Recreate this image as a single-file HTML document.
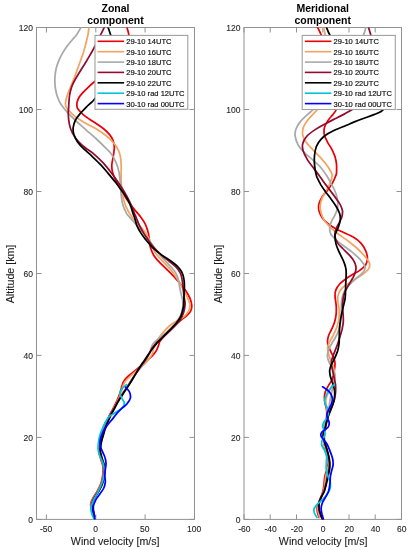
<!DOCTYPE html>
<html><head><meta charset="utf-8"><title>Wind profiles</title>
<style>
html,body{margin:0;padding:0;background:#fff}
svg{display:block}
text{font-family:"Liberation Sans",Arial,sans-serif;fill:#262626}
.tk{font-size:8.5px;fill:#262626;stroke:#262626;stroke-width:0.1px}
.lg{font-size:8.05px;fill:#111;stroke:#111;stroke-width:0.18px}
.lb{font-size:10.65px;fill:#1c1c1c;stroke:#1c1c1c;stroke-width:0.1px}
.tt{font-size:10.5px;font-weight:bold;fill:#000}
</style></head><body>
<svg width="411" height="550" viewBox="0 0 411 550"><rect width="411" height="550" fill="#fff"/><rect x="36.5" y="27.5" width="158.0" height="491.9" fill="#fff" stroke="#929292" stroke-width="1"/><path d="M46.4 519.4v-5M46.4 27.5v5" stroke="#929292" stroke-width="1"/><text x="46.1" y="531.8" class="tk" text-anchor="middle">-50</text><path d="M95.8 519.4v-5M95.8 27.5v5" stroke="#929292" stroke-width="1"/><text x="95.5" y="531.8" class="tk" text-anchor="middle">0</text><path d="M145.1 519.4v-5M145.1 27.5v5" stroke="#929292" stroke-width="1"/><text x="144.8" y="531.8" class="tk" text-anchor="middle">50</text><path d="M194.5 519.4v-5M194.5 27.5v5" stroke="#929292" stroke-width="1"/><text x="194.2" y="531.8" class="tk" text-anchor="middle">100</text><path d="M36.5 519.4h5M194.5 519.4h-5" stroke="#929292" stroke-width="1"/><text x="33.0" y="522.7" class="tk" text-anchor="end">0</text><path d="M36.5 437.4h5M194.5 437.4h-5" stroke="#929292" stroke-width="1"/><text x="33.0" y="440.7" class="tk" text-anchor="end">20</text><path d="M36.5 355.4h5M194.5 355.4h-5" stroke="#929292" stroke-width="1"/><text x="33.0" y="358.7" class="tk" text-anchor="end">40</text><path d="M36.5 273.5h5M194.5 273.5h-5" stroke="#929292" stroke-width="1"/><text x="33.0" y="276.8" class="tk" text-anchor="end">60</text><path d="M36.5 191.5h5M194.5 191.5h-5" stroke="#929292" stroke-width="1"/><text x="33.0" y="194.8" class="tk" text-anchor="end">80</text><path d="M36.5 109.5h5M194.5 109.5h-5" stroke="#929292" stroke-width="1"/><text x="33.0" y="112.8" class="tk" text-anchor="end">100</text><path d="M36.5 27.5h5M194.5 27.5h-5" stroke="#929292" stroke-width="1"/><text x="33.0" y="30.8" class="tk" text-anchor="end">120</text><clipPath id="cl"><rect x="36.5" y="27.5" width="158.0" height="491.9"/></clipPath><g clip-path="url(#cl)" fill="none" stroke-width="1.75" stroke-linejoin="round" stroke-linecap="round"><path d="M126.9 27.3C127.2 28.5 128.4 31.6 128.8 34.6C129.1 37.5 129.8 41.1 128.9 45.0C128.0 48.9 126.2 53.8 123.3 58.0C120.3 62.2 114.8 66.8 111.1 70.0C107.4 73.2 103.8 75.1 101.1 77.0C98.4 78.9 96.8 79.9 94.8 81.5C92.8 83.0 91.1 84.5 89.2 86.3C87.2 88.2 84.7 90.6 83.1 92.4C81.4 94.3 80.1 95.7 79.1 97.3C78.2 98.9 77.5 100.6 77.1 102.2C76.8 103.8 76.9 105.8 77.1 107.1C77.3 108.3 77.5 108.5 78.6 109.8C79.6 111.1 81.6 113.3 83.5 114.9C85.3 116.5 87.4 117.8 89.6 119.3C91.7 120.8 94.2 122.1 96.5 123.7C98.8 125.3 101.4 127.0 103.6 128.8C105.8 130.6 108.0 132.8 109.6 134.6C111.1 136.5 112.1 137.9 112.9 140.0C113.7 142.1 114.3 144.6 114.3 147.3C114.4 150.0 113.7 153.1 113.3 156.1C112.9 159.0 112.0 162.1 111.8 164.8C111.7 167.5 111.8 169.4 112.5 172.1C113.2 174.8 114.4 177.7 115.9 180.9C117.5 184.0 119.8 187.9 121.7 191.1C123.6 194.3 125.3 196.9 127.3 199.9C129.3 202.8 131.4 205.7 133.7 208.6C135.9 211.5 139.0 214.6 140.9 217.3C142.9 220.0 144.2 221.9 145.5 224.6C146.7 227.3 147.7 230.4 148.4 233.4C149.0 236.3 149.2 239.7 149.6 242.1C150.0 244.5 149.9 245.8 150.6 248.0C151.3 250.1 152.5 253.2 153.7 255.3C154.9 257.3 155.8 258.4 157.7 260.4C159.6 262.5 162.6 265.4 165.0 267.7C167.3 270.0 169.7 272.1 171.8 274.3C174.0 276.5 176.0 278.8 177.8 280.9C179.6 282.9 181.0 284.9 182.5 286.7C183.9 288.5 185.1 289.9 186.4 291.8C187.6 293.8 189.1 296.1 190.0 298.4C190.9 300.7 191.8 303.6 191.8 305.8C191.9 308.1 191.3 310.0 190.3 311.7C189.4 313.4 187.6 314.8 186.2 316.1C184.8 317.3 183.8 317.6 182.2 319.0C180.5 320.3 178.7 322.0 176.5 324.1C174.3 326.2 171.4 329.2 169.2 331.4C167.0 333.6 164.9 335.5 163.4 337.2C161.8 338.9 160.6 340.3 159.8 341.6C159.0 342.9 159.2 343.8 158.6 345.3C158.1 346.7 157.5 348.7 156.5 350.4C155.5 352.1 154.4 353.6 152.7 355.5C150.9 357.4 148.6 359.4 146.0 361.7C143.4 363.9 140.0 366.7 137.2 369.0C134.3 371.3 131.1 373.6 129.0 375.5C126.8 377.5 125.2 379.1 124.1 380.7C123.0 382.2 122.8 383.1 122.2 385.0C121.5 387.0 121.1 389.7 120.2 392.3C119.3 395.0 118.1 398.2 116.8 401.1C115.4 404.0 113.7 407.2 112.4 409.9C111.0 412.5 109.8 414.2 108.5 417.2C107.1 420.1 105.3 424.4 104.2 427.3C103.1 430.2 102.6 432.2 101.9 434.6C101.1 437.0 100.4 439.5 99.9 441.9C99.4 444.3 98.9 447.3 98.8 449.2C98.7 451.1 98.7 451.6 99.2 453.6C99.6 455.5 100.7 458.8 101.3 460.9C102.0 463.0 102.6 463.7 102.9 466.1C103.1 468.4 103.2 471.9 102.8 474.8C102.5 477.7 101.8 480.9 100.9 483.6C100.0 486.3 98.8 488.4 97.4 490.9C96.1 493.3 94.0 496.0 92.9 498.2C91.7 500.4 90.9 502.1 90.7 504.0C90.5 506.0 91.2 507.8 91.6 509.9C92.0 511.9 92.8 515.3 93.0 516.4" stroke="#ea0008"/><path d="M89.0 27.3C88.8 28.5 88.4 32.5 88.0 34.6C87.6 36.7 87.2 38.1 86.7 40.0C86.3 41.9 85.8 44.1 85.2 46.1C84.7 48.1 84.2 49.8 83.5 52.2C82.7 54.6 81.5 57.9 80.5 60.7C79.5 63.6 78.5 66.4 77.4 69.3C76.4 72.1 75.3 75.2 74.3 77.8C73.3 80.4 72.3 82.7 71.3 85.1C70.4 87.6 69.2 90.2 68.4 92.4C67.5 94.7 66.8 96.7 66.3 98.5C65.8 100.4 65.5 102.0 65.5 103.4C65.5 104.8 65.8 106.0 66.3 107.1C66.8 108.1 66.8 108.3 68.3 109.8C69.7 111.4 72.5 114.4 74.9 116.4C77.3 118.3 79.7 119.8 82.6 121.5C85.4 123.2 89.0 124.9 92.0 126.6C95.1 128.3 97.8 129.8 100.7 131.7C103.6 133.7 106.6 135.7 109.3 138.3C112.0 140.9 115.1 144.3 116.9 147.3C118.7 150.3 119.6 152.9 120.3 156.1C121.0 159.2 121.1 162.9 121.2 166.3C121.3 169.7 121.0 172.8 121.1 176.5C121.1 180.1 121.3 184.5 121.7 188.2C122.0 191.8 122.6 195.2 123.3 198.4C124.1 201.6 124.9 204.2 126.2 207.2C127.5 210.1 129.1 213.0 131.2 215.9C133.3 218.8 136.6 221.9 138.9 224.6C141.2 227.3 143.1 229.5 144.9 231.9C146.6 234.3 147.9 236.5 149.2 239.2C150.6 241.9 151.9 245.6 153.0 248.0C154.0 250.3 154.0 251.1 155.5 253.1C157.0 255.2 159.7 258.0 161.9 260.4C164.1 262.9 166.8 265.3 168.9 267.7C171.0 270.2 173.0 272.6 174.7 275.0C176.5 277.5 177.9 279.9 179.3 282.3C180.7 284.8 182.0 287.4 183.2 289.6C184.4 291.8 185.4 293.3 186.4 295.5C187.5 297.7 188.9 301.0 189.5 302.8C190.1 304.5 190.2 304.4 190.0 305.8C189.8 307.3 189.2 310.0 188.3 311.7C187.4 313.4 186.2 314.7 184.6 316.1C183.1 317.4 180.9 318.6 179.2 319.7C177.4 320.8 175.9 321.4 174.0 322.6C172.2 323.8 170.1 325.3 168.2 327.0C166.3 328.7 164.5 330.8 162.7 332.8C161.0 334.9 159.1 337.3 157.7 339.4C156.3 341.5 155.2 343.3 154.5 345.3C153.7 347.2 153.5 349.4 152.9 351.1C152.4 352.8 152.4 353.6 151.3 355.5C150.1 357.4 148.3 360.0 146.1 362.4C143.9 364.8 140.7 367.4 138.0 369.7C135.3 372.0 132.2 374.3 130.1 376.3C127.9 378.2 126.4 379.8 125.2 381.4C124.1 383.0 123.8 383.9 123.1 385.8C122.4 387.6 122.0 390.0 121.0 392.6C120.1 395.2 118.8 398.5 117.5 401.4C116.2 404.3 114.5 407.5 113.1 410.1C111.7 412.8 110.5 414.6 109.2 417.4C107.8 420.3 106.0 424.4 104.9 427.3C103.8 430.2 103.2 432.2 102.5 434.6C101.7 437.0 101.0 439.5 100.5 441.9C100.0 444.3 99.5 447.3 99.4 449.2C99.3 451.1 99.3 451.6 99.8 453.6C100.2 455.5 101.3 458.8 101.9 460.9C102.6 463.0 103.2 463.7 103.5 466.1C103.7 468.4 103.8 471.9 103.4 474.8C103.1 477.7 102.4 480.9 101.5 483.6C100.6 486.3 99.4 488.4 98.0 490.9C96.7 493.3 94.6 496.0 93.5 498.2C92.3 500.4 91.5 502.1 91.3 504.0C91.1 506.0 91.8 507.8 92.2 509.9C92.6 511.9 93.4 515.3 93.6 516.4" stroke="#f4a460"/><path d="M80.9 27.5C80.1 28.8 77.9 33.0 76.4 35.0C74.9 37.1 73.6 38.2 72.1 40.0C70.5 41.8 68.8 43.9 67.2 46.1C65.6 48.3 63.8 51.0 62.4 53.4C61.0 55.9 59.8 58.3 58.8 60.7C57.8 63.2 57.0 65.6 56.3 68.0C55.7 70.5 55.3 72.9 55.1 75.4C54.8 77.8 54.8 80.2 54.9 82.7C55.0 85.1 55.2 87.6 55.7 90.0C56.1 92.4 56.7 94.9 57.6 97.3C58.5 99.8 59.4 102.1 61.1 104.6C62.8 107.2 65.1 109.9 67.7 112.7C70.3 115.5 73.4 118.6 76.6 121.5C79.7 124.4 83.2 127.3 86.5 130.3C89.8 133.2 93.2 136.1 96.4 139.0C99.6 141.9 103.2 145.4 105.6 147.8C107.9 150.1 108.9 150.8 110.6 153.1C112.3 155.5 114.4 158.7 115.8 161.9C117.2 165.1 118.2 168.5 119.0 172.1C119.7 175.8 120.1 180.1 120.5 183.8C120.8 187.4 120.7 190.6 121.1 194.0C121.4 197.4 121.9 201.1 122.7 204.2C123.6 207.4 125.3 211.1 126.3 213.0C127.2 214.9 127.2 214.4 128.4 215.8C129.6 217.3 131.6 219.5 133.5 221.7C135.4 223.9 137.7 226.3 139.9 229.0C142.2 231.7 144.7 234.6 147.1 237.7C149.6 240.9 152.4 245.0 154.6 248.0C156.8 250.9 158.2 252.9 160.1 255.3C162.1 257.6 164.4 259.8 166.3 261.9C168.2 264.0 170.2 265.8 171.8 267.7C173.5 269.7 175.0 271.6 176.1 273.6C177.1 275.5 177.7 277.2 178.3 279.4C178.9 281.6 179.1 284.3 179.6 286.7C180.0 289.1 180.6 291.8 181.1 294.0C181.6 296.2 182.3 297.8 182.6 300.0C182.8 302.2 183.1 304.6 182.7 307.3C182.3 310.0 181.4 313.4 180.2 316.1C178.9 318.7 177.3 320.9 175.3 323.4C173.3 325.8 170.6 328.3 168.2 330.7C165.7 333.0 162.5 335.5 160.5 337.2C158.4 338.9 157.3 339.8 156.0 340.9C154.8 342.0 153.9 342.6 153.1 343.8C152.2 345.0 151.7 346.5 151.0 348.2C150.4 349.9 150.0 352.1 149.2 354.0C148.4 356.0 147.4 358.0 146.3 359.9C145.3 361.7 143.9 363.5 142.8 365.0C141.8 366.4 141.5 366.7 140.0 368.6C138.4 370.5 135.5 374.0 133.6 376.6C131.8 379.1 130.5 381.2 128.8 383.9C127.0 386.5 124.7 390.0 123.0 392.6C121.3 395.3 119.9 397.3 118.4 399.9C116.8 402.6 115.1 405.8 113.6 408.7C112.1 411.6 110.7 414.1 109.4 417.2C108.0 420.3 106.5 424.4 105.5 427.3C104.4 430.2 103.9 432.2 103.2 434.6C102.5 437.0 101.7 439.5 101.2 441.9C100.7 444.3 100.2 447.3 100.1 449.2C100.0 451.1 100.0 451.6 100.5 453.6C100.9 455.5 102.0 458.8 102.6 460.9C103.3 463.0 103.9 463.7 104.2 466.1C104.4 468.4 104.5 471.9 104.1 474.8C103.8 477.7 103.1 480.9 102.2 483.6C101.3 486.3 100.1 488.4 98.7 490.9C97.4 493.3 95.3 496.0 94.2 498.2C93.0 500.4 92.2 502.1 92.0 504.0C91.8 506.0 92.5 507.8 92.9 509.9C93.3 511.9 94.1 515.3 94.3 516.4" stroke="#a9a9a9"/><path d="M104.3 27.3C103.7 28.5 102.4 31.3 100.7 34.6C99.0 37.9 96.1 44.0 94.3 47.3C92.6 50.7 91.8 52.0 90.3 54.6C88.7 57.3 86.8 60.5 85.2 63.2C83.6 65.8 82.1 68.0 80.6 70.5C79.1 72.9 77.5 75.6 76.2 77.8C74.9 80.0 73.9 81.7 72.9 83.9C71.9 86.1 71.0 88.8 70.4 91.2C69.7 93.7 69.4 95.9 69.2 98.5C68.9 101.2 68.8 104.5 68.7 107.1C68.5 109.7 68.1 111.3 68.3 114.2C68.4 117.1 68.7 121.3 69.4 124.4C70.1 127.6 70.9 130.3 72.5 133.2C74.0 136.1 76.1 139.3 78.6 141.9C81.0 144.6 84.8 147.4 87.2 149.2C89.5 151.1 90.3 151.0 92.8 153.1C95.3 155.2 99.4 159.0 102.2 161.9C105.0 164.8 107.3 167.7 109.7 170.7C112.0 173.6 114.2 176.5 116.2 179.4C118.3 182.3 120.3 185.3 122.1 188.2C123.9 191.1 125.8 194.3 127.2 196.9C128.6 199.6 129.6 201.6 130.7 204.2C131.9 206.9 133.3 210.8 134.2 213.0C135.1 215.2 135.2 215.1 136.1 217.3C137.0 219.5 138.4 223.4 139.7 226.1C141.0 228.7 142.3 230.9 143.8 233.4C145.3 235.8 147.1 238.3 148.7 240.7C150.4 243.0 151.6 245.0 153.6 247.3C155.6 249.6 158.3 252.3 160.9 254.6C163.5 256.9 166.6 259.1 169.1 261.2C171.6 263.2 174.1 265.1 175.9 267.0C177.8 269.0 179.2 270.8 180.2 272.8C181.3 274.9 181.7 276.9 182.1 279.4C182.6 282.0 182.7 285.3 183.1 288.2C183.4 291.1 183.8 294.3 184.1 296.9C184.5 299.6 185.2 301.5 185.1 304.2C185.0 306.9 184.2 310.7 183.4 313.1C182.7 315.6 181.7 317.2 180.5 319.0C179.3 320.8 178.2 322.0 176.3 324.1C174.4 326.2 171.5 329.1 169.0 331.4C166.6 333.7 164.1 335.9 161.9 338.0C159.6 340.0 157.2 342.1 155.6 343.8C154.0 345.5 153.1 346.7 152.1 348.2C151.2 349.6 151.1 350.5 149.9 352.6C148.7 354.6 146.9 357.8 145.1 360.5C143.2 363.2 140.9 366.0 139.1 368.7C137.2 371.4 135.5 374.0 133.9 376.6C132.3 379.1 131.1 381.2 129.3 383.9C127.6 386.5 125.3 390.0 123.5 392.6C121.8 395.3 120.3 397.3 118.7 399.9C117.1 402.6 115.4 405.8 113.8 408.7C112.3 411.6 110.8 414.1 109.4 417.2C107.9 420.3 106.3 424.4 105.2 427.3C104.1 430.2 103.6 432.2 102.9 434.6C102.1 437.0 101.4 439.5 100.9 441.9C100.4 444.3 99.9 447.3 99.8 449.2C99.7 451.1 99.7 451.6 100.2 453.6C100.6 455.5 101.7 458.8 102.3 460.9C103.0 463.0 103.6 463.7 103.9 466.1C104.1 468.4 104.2 471.9 103.8 474.8C103.5 477.7 102.8 480.9 101.9 483.6C101.0 486.3 99.8 488.4 98.4 490.9C97.1 493.3 95.0 496.0 93.9 498.2C92.7 500.4 91.9 502.1 91.7 504.0C91.5 506.0 92.2 507.8 92.6 509.9C93.0 511.9 93.8 515.3 94.0 516.4" stroke="#920c2e"/><path d="M108.0 27.3C108.4 28.5 109.8 31.6 110.5 34.6C111.3 37.5 112.3 40.8 112.7 45.0C113.1 49.2 113.6 55.0 113.0 60.0C112.4 65.0 111.0 70.3 109.2 75.0C107.5 79.7 105.1 83.9 102.5 88.0C100.0 92.1 96.1 97.2 94.0 99.8C92.0 102.3 91.5 102.2 90.3 103.4C89.1 104.6 88.2 105.3 86.6 106.8C85.1 108.4 82.8 110.5 80.9 112.7C79.1 114.9 76.8 117.6 75.5 120.0C74.3 122.5 73.5 124.9 73.2 127.3C72.9 129.8 73.2 132.2 73.9 134.6C74.7 137.1 75.9 139.5 77.6 141.9C79.3 144.4 81.7 146.9 84.1 149.2C86.5 151.6 89.1 153.5 91.9 156.1C94.6 158.7 98.0 161.9 100.8 164.8C103.5 167.7 105.9 170.7 108.4 173.6C110.8 176.5 113.3 179.5 115.5 182.3C117.7 185.1 119.6 187.7 121.5 190.4C123.4 193.0 125.5 195.8 127.0 198.4C128.5 200.9 129.6 203.3 130.5 205.7C131.5 208.1 132.2 211.1 132.9 213.0C133.5 214.9 133.7 215.1 134.5 217.3C135.2 219.5 136.0 223.4 137.1 226.1C138.2 228.7 139.5 230.9 141.1 233.4C142.6 235.8 144.7 238.3 146.6 240.7C148.4 243.0 149.9 245.0 152.3 247.3C154.7 249.6 158.2 252.4 161.2 254.6C164.1 256.8 167.4 258.5 170.1 260.4C172.8 262.4 175.4 264.3 177.4 266.3C179.3 268.2 180.6 269.9 181.8 272.1C182.9 274.3 183.6 276.7 184.0 279.4C184.5 282.1 184.4 285.0 184.4 288.2C184.4 291.3 184.1 295.2 183.9 298.4C183.8 301.6 183.9 304.4 183.4 307.3C182.8 310.2 182.1 313.4 180.9 316.1C179.7 318.7 178.0 320.9 176.1 323.4C174.1 325.8 171.6 328.2 169.2 330.7C166.8 333.1 164.0 335.8 161.9 338.0C159.8 340.1 158.0 341.8 156.4 343.8C154.7 345.7 153.8 346.9 151.8 349.6C149.8 352.4 146.6 357.1 144.5 360.2C142.4 363.3 140.8 365.6 139.1 368.2C137.4 370.9 135.9 373.7 134.3 376.3C132.8 378.8 131.6 380.9 129.9 383.6C128.2 386.3 125.9 389.7 124.1 392.3C122.4 395.0 121.0 397.0 119.4 399.6C117.8 402.3 116.1 405.5 114.6 408.4C113.0 411.3 111.4 414.0 110.0 417.2C108.5 420.3 106.9 424.4 105.8 427.3C104.7 430.2 104.2 432.2 103.5 434.6C102.7 437.0 102.0 439.5 101.5 441.9C101.0 444.3 100.5 447.3 100.4 449.2C100.3 451.1 100.3 451.6 100.8 453.6C101.2 455.5 102.3 458.8 102.9 460.9C103.6 463.0 104.2 463.7 104.5 466.1C104.7 468.4 104.8 471.9 104.4 474.8C104.1 477.7 103.4 480.9 102.5 483.6C101.6 486.3 100.4 488.4 99.0 490.9C97.7 493.3 95.6 496.0 94.5 498.2C93.3 500.4 92.5 502.1 92.3 504.0C92.1 506.0 92.8 507.8 93.2 509.9C93.6 511.9 94.4 515.3 94.6 516.4" stroke="#000000"/><path d="M126.4 384.7C125.6 385.5 122.5 387.9 121.4 389.4C120.3 390.9 119.8 392.2 119.9 393.8C120.1 395.4 121.5 397.4 122.2 398.9C122.9 400.4 124.0 401.3 124.2 402.6C124.4 403.8 124.2 405.0 123.5 406.2C122.7 407.4 121.1 408.6 119.5 409.9C117.9 411.1 115.5 412.4 113.9 413.5C112.2 414.6 110.8 415.3 109.5 416.4C108.3 417.5 107.7 418.2 106.6 420.0C105.5 421.8 104.0 424.9 102.9 427.3C101.8 429.7 100.8 432.2 100.1 434.6C99.4 437.0 98.8 439.5 98.5 441.9C98.2 444.3 97.9 447.0 98.1 449.2C98.3 451.4 98.6 452.5 99.5 455.0C100.4 457.6 102.7 461.8 103.5 464.6C104.3 467.4 104.3 469.5 104.3 471.9C104.2 474.3 103.9 476.8 103.2 479.2C102.6 481.6 101.7 484.1 100.6 486.5C99.6 488.9 98.1 491.6 97.0 493.8C95.8 496.0 94.7 497.7 93.8 499.6C92.9 501.6 92.0 503.5 91.6 505.5C91.1 507.4 91.0 509.6 91.2 511.3C91.4 513.0 92.2 514.4 92.7 515.7C93.2 517.0 93.9 518.7 94.2 519.3" stroke="#00c5dc"/><path d="M125.7 387.2C126.3 388.0 128.7 390.3 129.5 392.0C130.3 393.8 130.8 395.9 130.4 397.9C130.0 399.8 128.6 402.0 127.1 403.7C125.7 405.5 123.5 406.9 121.8 408.4C120.2 409.9 118.8 411.1 117.3 412.8C115.8 414.5 114.6 416.4 112.8 418.6C111.1 420.8 108.6 423.4 106.9 425.8C105.2 428.3 103.6 430.7 102.4 433.1C101.3 435.6 100.5 438.2 100.2 440.4C99.9 442.6 100.0 444.3 100.4 446.3C100.8 448.2 101.9 450.3 102.7 452.1C103.4 454.0 104.4 455.5 104.9 457.3C105.5 459.1 106.0 460.9 106.0 463.1C106.1 465.3 105.4 468.2 105.2 470.4C105.0 472.6 104.8 474.3 104.9 476.3C104.9 478.2 105.5 480.2 105.3 482.1C105.1 484.1 104.7 486.0 103.8 488.0C103.0 489.9 101.4 491.8 100.0 493.8C98.7 495.7 97.0 497.7 95.9 499.6C94.9 501.6 93.9 503.5 93.5 505.5C93.1 507.4 93.3 509.0 93.5 511.3C93.8 513.6 94.7 518.0 94.9 519.3" stroke="#0000ff"/></g><rect x="95.0" y="35.4" width="92.8" height="73.9" fill="#fff" stroke="#a0a0a0" stroke-width="1.1"/><path d="M97.6 41.3h26.5" stroke="#ea0008" stroke-width="1.6"/><text transform="translate(126.2 44.2) scale(0.94 1)" class="lg">29-10 14UTC</text><path d="M97.6 51.7h26.5" stroke="#f4a460" stroke-width="1.6"/><text transform="translate(126.2 54.6) scale(0.94 1)" class="lg">29-10 16UTC</text><path d="M97.6 62.1h26.5" stroke="#a9a9a9" stroke-width="1.6"/><text transform="translate(126.2 65.0) scale(0.94 1)" class="lg">29-10 18UTC</text><path d="M97.6 72.4h26.5" stroke="#920c2e" stroke-width="1.6"/><text transform="translate(126.2 75.3) scale(0.94 1)" class="lg">29-10 20UTC</text><path d="M97.6 82.8h26.5" stroke="#000000" stroke-width="1.6"/><text transform="translate(126.2 85.7) scale(0.94 1)" class="lg">29-10 22UTC</text><path d="M97.6 93.2h26.5" stroke="#00c5dc" stroke-width="1.6"/><text transform="translate(126.2 96.1) scale(0.94 1)" class="lg">29-10 rad 12UTC</text><path d="M97.6 103.6h26.5" stroke="#0000ff" stroke-width="1.6"/><text transform="translate(126.2 106.5) scale(0.94 1)" class="lg">30-10 rad 00UTC</text><rect x="244.0" y="27.5" width="157.5" height="491.9" fill="#fff" stroke="#929292" stroke-width="1"/><path d="M244.0 519.4v-5M244.0 27.5v5" stroke="#929292" stroke-width="1"/><text x="244.3" y="531.8" class="tk" text-anchor="middle">-60</text><path d="M270.2 519.4v-5M270.2 27.5v5" stroke="#929292" stroke-width="1"/><text x="270.6" y="531.8" class="tk" text-anchor="middle">-40</text><path d="M296.5 519.4v-5M296.5 27.5v5" stroke="#929292" stroke-width="1"/><text x="296.8" y="531.8" class="tk" text-anchor="middle">-20</text><path d="M322.8 519.4v-5M322.8 27.5v5" stroke="#929292" stroke-width="1"/><text x="323.1" y="531.8" class="tk" text-anchor="middle">0</text><path d="M349.0 519.4v-5M349.0 27.5v5" stroke="#929292" stroke-width="1"/><text x="349.3" y="531.8" class="tk" text-anchor="middle">20</text><path d="M375.2 519.4v-5M375.2 27.5v5" stroke="#929292" stroke-width="1"/><text x="375.6" y="531.8" class="tk" text-anchor="middle">40</text><path d="M401.5 519.4v-5M401.5 27.5v5" stroke="#929292" stroke-width="1"/><text x="401.8" y="531.8" class="tk" text-anchor="middle">60</text><path d="M244.0 519.4h5M401.5 519.4h-5" stroke="#929292" stroke-width="1"/><text x="240.5" y="522.7" class="tk" text-anchor="end">0</text><path d="M244.0 437.4h5M401.5 437.4h-5" stroke="#929292" stroke-width="1"/><text x="240.5" y="440.7" class="tk" text-anchor="end">20</text><path d="M244.0 355.4h5M401.5 355.4h-5" stroke="#929292" stroke-width="1"/><text x="240.5" y="358.7" class="tk" text-anchor="end">40</text><path d="M244.0 273.5h5M401.5 273.5h-5" stroke="#929292" stroke-width="1"/><text x="240.5" y="276.8" class="tk" text-anchor="end">60</text><path d="M244.0 191.5h5M401.5 191.5h-5" stroke="#929292" stroke-width="1"/><text x="240.5" y="194.8" class="tk" text-anchor="end">80</text><path d="M244.0 109.5h5M401.5 109.5h-5" stroke="#929292" stroke-width="1"/><text x="240.5" y="112.8" class="tk" text-anchor="end">100</text><path d="M244.0 27.5h5M401.5 27.5h-5" stroke="#929292" stroke-width="1"/><text x="240.5" y="30.8" class="tk" text-anchor="end">120</text><clipPath id="cr"><rect x="244.0" y="27.5" width="157.5" height="491.9"/></clipPath><g clip-path="url(#cr)" fill="none" stroke-width="1.75" stroke-linejoin="round" stroke-linecap="round"><path d="M317.4 27.0C318.1 28.4 319.9 31.7 321.4 35.5C322.8 39.3 324.3 44.2 326.1 50.0C327.8 55.8 330.1 63.3 332.0 70.0C333.9 76.7 336.4 85.0 337.5 90.0C338.5 95.0 338.6 96.8 338.4 100.0C338.1 103.2 337.1 107.1 336.2 109.5C335.3 111.9 334.2 112.8 332.9 114.6C331.5 116.4 329.4 118.2 328.0 120.4C326.6 122.6 325.0 125.3 324.4 127.7C323.8 130.2 323.9 132.6 324.4 135.0C325.0 137.5 326.4 139.9 327.6 142.3C328.9 144.8 330.8 147.2 332.0 149.6C333.2 152.1 334.3 154.5 335.1 156.9C335.8 159.4 336.3 161.6 336.5 164.2C336.7 166.9 336.6 171.1 336.5 173.0C336.4 174.9 336.4 174.1 335.7 175.8C335.1 177.5 333.8 180.7 332.4 183.1C331.0 185.6 329.0 188.2 327.3 190.4C325.7 192.6 323.9 194.1 322.5 196.3C321.2 198.5 319.6 201.1 319.0 203.6C318.4 206.0 318.4 208.4 319.0 210.9C319.6 213.3 321.0 216.0 322.5 218.2C324.1 220.4 326.3 222.3 328.4 224.0C330.5 225.7 332.9 227.1 335.3 228.4C337.7 229.7 339.6 230.6 342.7 232.0C345.7 233.5 350.6 235.5 353.6 237.3C356.6 239.1 358.9 240.9 360.9 243.1C362.9 245.3 364.5 248.0 365.5 250.4C366.6 252.9 367.4 255.3 367.4 257.7C367.5 260.2 366.8 263.0 365.6 265.0C364.4 267.1 362.1 268.7 360.1 270.1C358.2 271.6 356.1 272.5 353.8 273.8C351.6 275.1 349.1 276.5 346.7 278.2C344.3 279.9 341.5 282.1 339.7 284.0C337.9 286.0 336.7 287.9 335.9 289.9C335.1 291.8 335.0 293.5 335.0 295.7C335.0 297.9 335.7 301.1 335.9 303.0C336.1 304.9 336.3 305.4 336.3 307.3C336.3 309.2 336.4 312.2 336.1 314.6C335.8 317.0 335.4 319.5 334.6 321.9C333.9 324.3 332.7 327.0 331.7 329.2C330.7 331.4 329.5 333.1 328.8 335.0C328.1 337.0 327.5 338.9 327.5 340.9C327.5 342.8 328.0 344.8 328.6 346.7C329.3 348.7 330.4 350.6 331.3 352.6C332.2 354.5 333.3 356.4 333.9 358.4C334.5 360.3 335.1 361.3 335.0 364.2C334.9 367.1 333.9 372.9 333.3 375.8C332.6 378.7 331.8 380.0 330.9 381.7C330.1 383.4 329.0 384.4 328.1 386.1C327.1 387.8 325.9 390.0 325.3 391.9C324.6 393.8 324.4 395.8 324.4 397.7C324.4 399.7 324.8 401.6 325.1 403.6C325.5 405.5 326.3 407.2 326.5 409.4C326.8 411.6 326.8 414.5 326.7 416.7C326.5 418.9 326.0 420.6 325.5 422.6C325.1 424.5 324.5 426.4 324.1 428.4C323.7 430.3 323.1 431.1 323.2 434.2C323.3 437.4 324.1 443.9 324.7 447.3C325.3 450.7 326.4 452.2 327.0 454.6C327.6 457.0 328.4 459.5 328.4 461.9C328.4 464.3 327.6 466.8 327.0 469.2C326.4 471.6 325.3 474.1 324.8 476.5C324.3 478.9 324.3 481.4 324.1 483.8C323.8 486.2 323.6 488.7 323.0 491.1C322.4 493.5 321.3 496.0 320.4 498.4C319.5 500.8 318.1 503.5 317.5 505.7C317.0 507.9 317.1 509.6 317.3 511.5C317.6 513.5 318.8 516.4 319.1 517.4" stroke="#ea0008"/><path d="M323.5 27.0C323.8 28.4 324.6 31.7 325.2 35.5C325.7 39.3 326.5 44.2 326.8 50.0C327.1 55.8 327.6 63.3 327.2 70.0C326.8 76.7 325.5 84.7 324.5 90.0C323.4 95.3 322.1 98.8 320.8 102.0C319.6 105.2 318.5 107.4 317.1 109.5C315.8 111.6 314.4 112.8 312.7 114.6C311.1 116.4 309.0 118.2 307.4 120.4C305.8 122.6 304.0 125.3 303.2 127.7C302.5 130.2 302.2 132.6 302.7 135.0C303.2 137.5 304.5 139.9 306.2 142.3C307.8 144.8 310.5 147.2 312.7 149.6C315.0 152.1 317.7 154.5 319.9 156.9C322.1 159.4 324.3 161.8 326.2 164.2C328.0 166.7 329.8 169.6 330.8 171.5C331.8 173.5 332.2 173.9 332.1 175.8C332.0 177.8 331.2 180.7 330.2 183.1C329.3 185.6 327.6 188.0 326.3 190.4C325.0 192.9 323.3 195.3 322.3 197.7C321.3 200.2 320.5 202.6 320.3 205.0C320.0 207.5 320.3 209.9 320.9 212.3C321.5 214.8 322.5 217.2 323.9 219.6C325.4 222.1 327.7 224.7 329.8 226.9C331.9 229.1 334.6 231.2 336.7 232.8C338.7 234.4 339.8 235.1 341.9 236.6C344.0 238.1 346.6 239.9 349.0 241.7C351.4 243.5 354.0 245.6 356.2 247.5C358.4 249.5 360.4 251.4 362.2 253.4C364.0 255.3 366.0 257.5 367.2 259.2C368.5 260.9 369.4 262.0 369.6 263.6C369.9 265.2 369.5 267.2 368.7 268.7C368.0 270.1 366.8 271.0 365.1 272.3C363.5 273.7 361.3 275.3 359.1 276.7C357.0 278.2 354.4 279.6 352.1 281.1C349.8 282.6 347.2 284.0 345.3 285.5C343.3 286.9 341.7 288.2 340.5 289.9C339.3 291.6 338.4 293.5 338.0 295.7C337.6 297.9 337.8 301.1 338.0 303.0C338.1 304.9 338.7 305.4 338.9 307.3C339.1 309.2 339.3 312.2 339.2 314.6C339.1 317.0 338.8 319.5 338.3 321.9C337.8 324.3 337.0 326.8 336.1 329.2C335.1 331.6 333.7 334.3 332.6 336.5C331.5 338.7 330.2 340.4 329.4 342.3C328.6 344.3 327.8 346.2 327.6 348.2C327.5 350.1 328.0 352.1 328.5 354.0C329.0 356.0 329.9 357.9 330.7 359.9C331.5 361.8 332.3 363.0 333.1 365.7C333.8 368.4 334.9 373.2 335.1 375.8C335.2 378.5 334.7 379.7 334.0 381.7C333.4 383.6 332.2 385.6 331.2 387.5C330.2 389.5 328.9 391.2 328.0 393.4C327.1 395.5 326.0 398.2 325.8 400.7C325.6 403.1 326.5 405.8 326.8 408.0C327.0 410.1 327.4 411.8 327.2 413.8C327.1 415.7 326.4 417.7 326.0 419.6C325.5 421.6 324.7 423.5 324.3 425.5C323.9 427.4 323.6 428.9 323.5 431.3C323.3 433.7 323.2 437.3 323.5 440.0C323.8 442.7 324.4 444.9 325.1 447.3C325.8 449.7 327.0 452.2 327.6 454.6C328.3 457.0 329.0 459.5 329.0 461.9C329.0 464.3 328.3 466.8 327.7 469.2C327.2 471.6 326.3 474.1 325.8 476.5C325.3 478.9 325.2 481.4 324.9 483.8C324.5 486.2 324.4 488.7 323.8 491.1C323.1 493.5 322.0 496.0 321.1 498.4C320.2 500.8 318.8 503.5 318.3 505.7C317.8 507.9 317.8 509.6 318.1 511.5C318.3 513.5 319.5 516.4 319.8 517.4" stroke="#f4a460"/><path d="M365.7 27.7C365.3 29.0 365.2 31.1 363.3 35.7C361.3 40.2 357.7 48.4 353.8 55.0C350.0 61.6 344.8 68.3 340.0 75.0C335.2 81.7 328.6 90.2 324.9 95.0C321.3 99.8 320.0 101.6 318.1 104.0C316.2 106.4 315.2 107.7 313.4 109.5C311.6 111.3 309.6 112.5 307.4 114.6C305.2 116.7 302.1 119.5 300.2 121.9C298.3 124.3 296.8 126.8 295.9 129.2C295.1 131.6 294.8 133.8 295.2 136.5C295.6 139.2 296.8 142.6 298.3 145.3C299.9 147.9 302.0 150.1 304.4 152.6C306.8 155.0 310.0 157.4 312.7 159.9C315.4 162.3 318.3 164.5 320.6 167.2C322.9 169.8 325.1 173.2 326.8 175.8C328.5 178.5 329.6 180.9 330.8 183.1C332.0 185.3 333.1 187.0 334.0 189.0C334.9 190.9 335.7 192.6 336.3 194.8C336.9 197.0 337.6 199.7 337.8 202.1C337.9 204.5 337.7 207.2 337.2 209.4C336.7 211.6 335.7 213.3 334.8 215.3C333.9 217.2 332.5 219.1 331.7 221.1C330.8 223.0 330.0 225.0 329.8 226.9C329.5 228.9 329.9 231.3 330.3 232.8C330.7 234.3 330.7 234.4 332.0 235.8C333.3 237.3 335.9 239.9 338.0 241.7C340.1 243.5 342.5 245.1 344.8 246.8C347.1 248.5 349.5 250.1 351.8 251.9C354.0 253.7 356.5 255.8 358.4 257.7C360.3 259.7 362.3 261.9 363.4 263.6C364.5 265.3 365.2 266.5 365.1 268.0C365.1 269.4 364.2 270.9 363.1 272.3C361.9 273.8 359.9 275.1 358.1 276.7C356.3 278.3 354.2 280.0 352.3 281.8C350.4 283.6 348.4 285.6 346.8 287.7C345.3 289.7 344.0 291.9 343.1 294.2C342.2 296.5 341.8 299.4 341.5 301.5C341.2 303.7 341.4 305.1 341.4 307.3C341.3 309.5 341.3 312.2 341.2 314.6C341.0 317.0 340.9 319.5 340.6 321.9C340.2 324.3 339.8 326.8 339.0 329.2C338.2 331.6 337.2 334.1 335.9 336.5C334.7 338.9 332.9 341.4 331.6 343.8C330.3 346.2 328.8 348.9 328.1 351.1C327.4 353.3 327.3 355.0 327.5 356.9C327.7 358.9 328.5 360.8 329.4 362.8C330.2 364.7 331.7 366.7 332.6 368.6C333.5 370.6 334.4 372.3 334.6 374.5C334.8 376.6 334.3 378.8 333.8 381.7C333.4 384.6 332.4 389.0 331.8 391.9C331.2 394.8 330.7 396.8 330.2 399.2C329.8 401.6 329.5 404.1 329.2 406.5C328.8 408.9 328.6 411.6 328.1 413.8C327.6 416.0 326.9 417.7 326.4 419.6C325.8 421.6 325.1 423.5 324.7 425.5C324.3 427.4 324.0 428.9 323.8 431.3C323.7 433.7 323.7 437.3 324.0 440.0C324.3 442.7 325.0 444.9 325.7 447.3C326.3 449.7 327.2 452.2 327.7 454.6C328.3 457.0 328.9 459.5 329.0 461.9C329.1 464.3 328.7 466.8 328.3 469.2C327.9 471.6 327.1 474.1 326.7 476.5C326.2 478.9 326.0 481.4 325.5 483.8C325.0 486.2 324.5 488.8 323.8 491.1C323.1 493.4 321.9 495.5 321.0 497.7C320.2 499.9 319.1 502.0 318.7 504.2C318.3 506.4 318.5 508.7 318.8 510.8C319.1 512.9 320.3 515.7 320.5 516.6" stroke="#a9a9a9"/><path d="M368.6 27.7C369.0 29.0 370.0 32.0 371.0 35.7C372.0 39.4 373.7 44.3 374.6 50.0C375.4 55.7 376.9 63.3 376.2 70.0C375.5 76.7 373.1 84.5 370.5 90.0C367.9 95.5 363.8 99.8 360.7 103.0C357.7 106.2 354.8 107.7 352.1 109.5C349.4 111.3 347.3 112.4 344.7 113.9C342.0 115.3 339.2 116.7 336.1 118.2C333.0 119.8 329.7 121.4 326.1 123.4C322.6 125.3 318.0 127.7 314.8 129.9C311.5 132.1 308.6 134.2 306.6 136.5C304.6 138.8 303.2 141.4 302.7 143.8C302.1 146.2 302.4 148.4 303.2 151.1C304.0 153.8 305.7 156.9 307.5 159.9C309.3 162.8 311.8 165.7 314.0 168.6C316.2 171.5 318.5 174.6 320.4 177.3C322.4 180.0 323.9 182.2 325.7 184.6C327.5 187.0 329.4 189.5 331.2 191.9C333.1 194.3 335.0 197.0 336.6 199.2C338.1 201.4 339.5 203.1 340.4 205.0C341.4 207.0 342.2 208.9 342.5 210.9C342.7 212.8 342.4 214.8 341.9 216.7C341.4 218.7 340.2 220.6 339.3 222.6C338.3 224.5 337.0 226.2 336.3 228.4C335.5 230.6 334.6 233.4 334.8 235.8C335.1 238.3 336.3 240.9 337.7 243.1C339.1 245.3 341.3 247.0 343.2 249.0C345.1 250.9 347.3 252.9 349.1 254.8C350.8 256.8 352.6 258.7 353.7 260.7C354.9 262.6 355.6 264.5 355.9 266.5C356.2 268.4 355.9 270.4 355.3 272.3C354.8 274.3 353.7 276.2 352.7 278.2C351.7 280.1 350.3 282.1 349.2 284.0C348.1 286.0 346.8 287.9 345.8 289.9C344.9 291.8 344.2 293.5 343.7 295.7C343.2 297.9 342.8 301.1 342.6 303.0C342.4 304.9 342.4 305.4 342.5 307.3C342.6 309.2 343.0 312.2 343.1 314.6C343.3 317.0 343.5 319.5 343.3 321.9C343.1 324.3 342.6 326.8 342.1 329.2C341.5 331.6 340.8 334.1 340.0 336.5C339.3 338.9 338.6 341.4 337.7 343.8C336.8 346.2 335.8 348.7 334.9 351.1C334.0 353.5 332.8 356.2 332.2 358.4C331.6 360.6 331.1 361.1 331.4 364.2C331.7 367.4 333.5 373.9 334.1 377.3C334.8 380.7 335.2 382.2 335.5 384.6C335.7 387.0 335.7 389.5 335.6 391.9C335.4 394.3 335.0 397.0 334.5 399.2C334.0 401.4 333.4 403.1 332.7 405.0C332.0 407.0 331.1 408.9 330.4 410.9C329.6 412.8 328.8 414.8 328.2 416.7C327.6 418.7 327.1 420.9 326.6 422.6C326.2 424.3 325.9 425.5 325.6 426.9C325.2 428.4 324.8 429.1 324.6 431.3C324.4 433.5 324.2 437.3 324.4 440.0C324.7 442.7 325.5 444.9 326.1 447.3C326.7 449.7 327.6 452.2 328.1 454.6C328.7 457.0 329.2 459.5 329.4 461.9C329.6 464.3 329.4 466.8 329.1 469.2C328.8 471.6 328.0 474.1 327.5 476.5C327.0 478.9 326.6 481.4 326.0 483.8C325.4 486.2 324.9 488.9 324.1 491.1C323.3 493.3 322.0 495.2 321.1 497.2C320.2 499.2 319.2 500.9 318.8 503.1C318.5 505.2 318.8 507.9 319.1 510.1C319.5 512.2 320.5 514.3 321.0 515.9C321.6 517.5 322.2 519.0 322.4 519.6" stroke="#920c2e"/><path d="M326.3 27.0C326.9 28.4 328.3 32.5 330.1 35.5C331.8 38.5 333.2 40.9 336.6 45.0C340.0 49.1 345.1 54.5 350.6 60.0C356.0 65.5 363.5 71.7 369.2 78.0C374.9 84.3 382.7 92.8 385.0 98.0C387.4 103.2 385.2 106.7 383.3 109.5C381.5 112.3 377.1 113.1 373.9 114.6C370.7 116.1 367.2 117.0 364.0 118.2C360.7 119.5 357.7 120.6 354.4 121.9C351.1 123.2 347.2 125.1 344.3 126.3C341.3 127.5 339.5 128.0 336.8 129.2C334.1 130.4 330.7 131.9 328.1 133.6C325.4 135.3 322.8 137.2 320.9 139.4C318.9 141.6 317.4 144.0 316.3 146.7C315.3 149.4 314.8 152.6 314.5 155.5C314.2 158.4 314.3 161.3 314.5 164.2C314.7 167.2 315.3 170.8 315.8 173.0C316.2 175.2 316.2 175.4 317.0 177.3C317.9 179.2 319.3 182.2 320.7 184.6C322.2 187.0 323.9 189.5 325.7 191.9C327.4 194.3 329.5 196.8 331.2 199.2C333.0 201.6 334.8 204.1 336.2 206.5C337.6 208.9 339.0 211.6 339.7 213.8C340.3 216.0 340.5 217.4 340.3 219.6C340.1 221.8 339.2 224.7 338.4 226.9C337.7 229.1 336.4 231.3 335.9 232.8C335.3 234.3 335.0 234.1 335.0 235.8C335.0 237.6 335.2 240.7 335.8 243.1C336.3 245.6 337.4 248.0 338.4 250.4C339.4 252.9 340.9 255.5 341.9 257.7C342.9 259.9 343.8 261.6 344.5 263.6C345.2 265.5 345.7 267.2 346.0 269.4C346.2 271.6 346.2 274.3 346.1 276.7C346.1 279.1 345.8 281.6 345.7 284.0C345.6 286.4 345.7 288.9 345.5 291.3C345.4 293.7 345.5 295.9 345.1 298.6C344.7 301.3 343.7 304.6 343.1 307.3C342.5 310.0 342.0 312.2 341.5 314.6C341.0 317.0 340.5 319.5 340.2 321.9C339.8 324.3 339.6 326.8 339.5 329.2C339.3 331.6 339.4 334.1 339.3 336.5C339.2 338.9 339.3 341.4 339.0 343.8C338.7 346.2 338.3 348.7 337.6 351.1C336.8 353.5 335.6 356.2 334.6 358.4C333.6 360.6 332.4 362.3 331.6 364.2C330.7 366.2 329.9 368.1 329.7 370.1C329.5 372.0 329.8 373.9 330.2 375.8C330.6 377.8 331.5 379.7 332.1 381.7C332.8 383.6 333.6 385.6 334.0 387.5C334.5 389.5 334.7 391.4 334.7 393.4C334.8 395.3 334.5 397.3 334.2 399.2C333.8 401.1 333.2 403.1 332.6 405.0C331.9 407.0 330.9 408.9 330.1 410.9C329.3 412.8 328.5 414.8 327.9 416.7C327.3 418.7 326.8 420.9 326.4 422.6C325.9 424.3 325.8 425.5 325.4 426.9C325.0 428.4 324.4 429.7 324.1 431.3C323.7 432.9 322.9 434.2 323.1 436.4C323.4 438.6 324.7 442.3 325.3 444.4C325.9 446.4 326.3 447.1 326.8 448.8C327.3 450.5 328.0 452.4 328.4 454.6C328.9 456.8 329.6 459.5 329.7 461.9C329.9 464.3 329.9 466.8 329.6 469.2C329.3 471.6 328.5 474.1 328.0 476.5C327.5 478.9 327.0 481.4 326.4 483.8C325.8 486.2 325.2 488.9 324.4 491.1C323.5 493.3 322.3 495.0 321.4 496.9C320.6 498.9 319.5 500.6 319.1 502.8C318.8 505.0 319.1 507.9 319.4 510.1C319.8 512.3 320.8 514.3 321.3 515.9C321.8 517.5 322.5 519.0 322.7 519.6" stroke="#000000"/><path d="M334.3 384.6C333.8 385.1 332.3 386.1 331.1 387.5C330.0 389.0 328.2 391.4 327.2 393.4C326.1 395.3 325.1 397.5 324.8 399.2C324.4 400.9 324.8 402.0 325.2 403.6C325.6 405.2 326.9 407.0 327.4 408.7C328.0 410.4 328.5 412.1 328.3 413.8C328.1 415.5 326.9 417.4 326.1 418.9C325.3 420.4 324.2 421.3 323.6 422.6C323.1 423.8 322.6 425.0 322.6 426.2C322.7 427.4 323.6 428.6 323.9 429.9C324.3 431.1 325.0 432.3 325.0 433.5C325.0 434.7 324.4 435.8 323.9 437.2C323.3 438.5 322.1 440.1 321.8 441.5C321.5 443.0 321.5 444.4 322.0 445.8C322.4 447.3 323.7 448.5 324.5 450.2C325.2 451.9 326.2 454.1 326.5 456.1C326.9 458.0 326.5 459.7 326.4 461.9C326.4 464.1 326.0 466.8 326.2 469.2C326.5 471.6 327.4 474.3 328.1 476.5C328.8 478.7 329.8 480.4 330.2 482.3C330.5 484.3 330.6 486.2 330.2 488.2C329.7 490.1 328.7 492.1 327.4 494.0C326.1 496.0 324.0 498.2 322.3 499.9C320.6 501.6 318.7 502.8 317.3 504.2C316.0 505.7 314.6 507.2 314.1 508.6C313.6 510.1 314.0 511.5 314.4 513.0C314.9 514.5 316.5 516.6 316.9 517.4" stroke="#00c5dc"/><path d="M322.6 386.8C323.7 387.6 327.7 390.1 329.4 391.9C331.0 393.7 331.9 395.8 332.3 397.7C332.6 399.7 332.1 401.8 331.6 403.6C331.1 405.4 330.0 407.0 329.2 408.7C328.4 410.4 327.3 412.2 327.0 413.8C326.7 415.4 327.1 416.7 327.4 418.2C327.8 419.6 329.1 421.1 329.2 422.6C329.3 424.0 329.0 425.7 328.3 426.9C327.5 428.2 326.0 428.9 324.8 429.9C323.7 430.8 322.0 431.7 321.4 432.8C320.8 433.9 320.7 435.2 321.2 436.4C321.6 437.6 323.0 438.7 324.0 440.1C325.0 441.4 326.0 442.3 327.2 444.5C328.3 446.6 329.9 450.7 330.8 453.1C331.7 455.6 332.3 457.0 332.7 459.0C333.0 460.9 333.3 462.9 333.1 464.8C332.9 466.8 332.1 468.7 331.6 470.7C331.2 472.6 330.7 474.3 330.4 476.5C330.1 478.7 330.2 481.4 329.9 483.8C329.6 486.2 329.3 488.9 328.6 491.1C327.9 493.3 326.7 495.0 325.7 496.9C324.6 498.9 323.2 500.8 322.4 502.8C321.7 504.7 321.2 506.7 321.1 508.6C321.1 510.6 321.7 512.6 322.0 514.5C322.4 516.3 323.2 518.7 323.5 519.6" stroke="#0000ff"/></g><rect x="302.2" y="35.4" width="93.1" height="74.1" fill="#fff" stroke="#a0a0a0" stroke-width="1.1"/><path d="M304.9 41.3h26.5" stroke="#ea0008" stroke-width="1.6"/><text transform="translate(333.5 44.2) scale(0.94 1)" class="lg">29-10 14UTC</text><path d="M304.9 51.7h26.5" stroke="#f4a460" stroke-width="1.6"/><text transform="translate(333.5 54.6) scale(0.94 1)" class="lg">29-10 16UTC</text><path d="M304.9 62.1h26.5" stroke="#a9a9a9" stroke-width="1.6"/><text transform="translate(333.5 65.0) scale(0.94 1)" class="lg">29-10 18UTC</text><path d="M304.9 72.4h26.5" stroke="#920c2e" stroke-width="1.6"/><text transform="translate(333.5 75.3) scale(0.94 1)" class="lg">29-10 20UTC</text><path d="M304.9 82.8h26.5" stroke="#000000" stroke-width="1.6"/><text transform="translate(333.5 85.7) scale(0.94 1)" class="lg">29-10 22UTC</text><path d="M304.9 93.2h26.5" stroke="#00c5dc" stroke-width="1.6"/><text transform="translate(333.5 96.1) scale(0.94 1)" class="lg">29-10 rad 12UTC</text><path d="M304.9 103.6h26.5" stroke="#0000ff" stroke-width="1.6"/><text transform="translate(333.5 106.5) scale(0.94 1)" class="lg">30-10 rad 00UTC</text><text x="115.5" y="11.9" class="tt" text-anchor="middle">Zonal</text><text x="115.5" y="24.4" class="tt" text-anchor="middle">component</text><text x="322.7" y="11.9" class="tt" text-anchor="middle">Meridional</text><text x="322.7" y="24.4" class="tt" text-anchor="middle">component</text><text x="115.2" y="545.1" class="lb" text-anchor="middle">Wind velocity [m/s]</text><text x="323.2" y="545.1" class="lb" text-anchor="middle">Wind velocity [m/s]</text><text transform="translate(14.1 274) rotate(-90)" class="lb" text-anchor="middle">Altitude [km]</text><text transform="translate(221.6 274) rotate(-90)" class="lb" text-anchor="middle">Altitude [km]</text></svg>
</body></html>
